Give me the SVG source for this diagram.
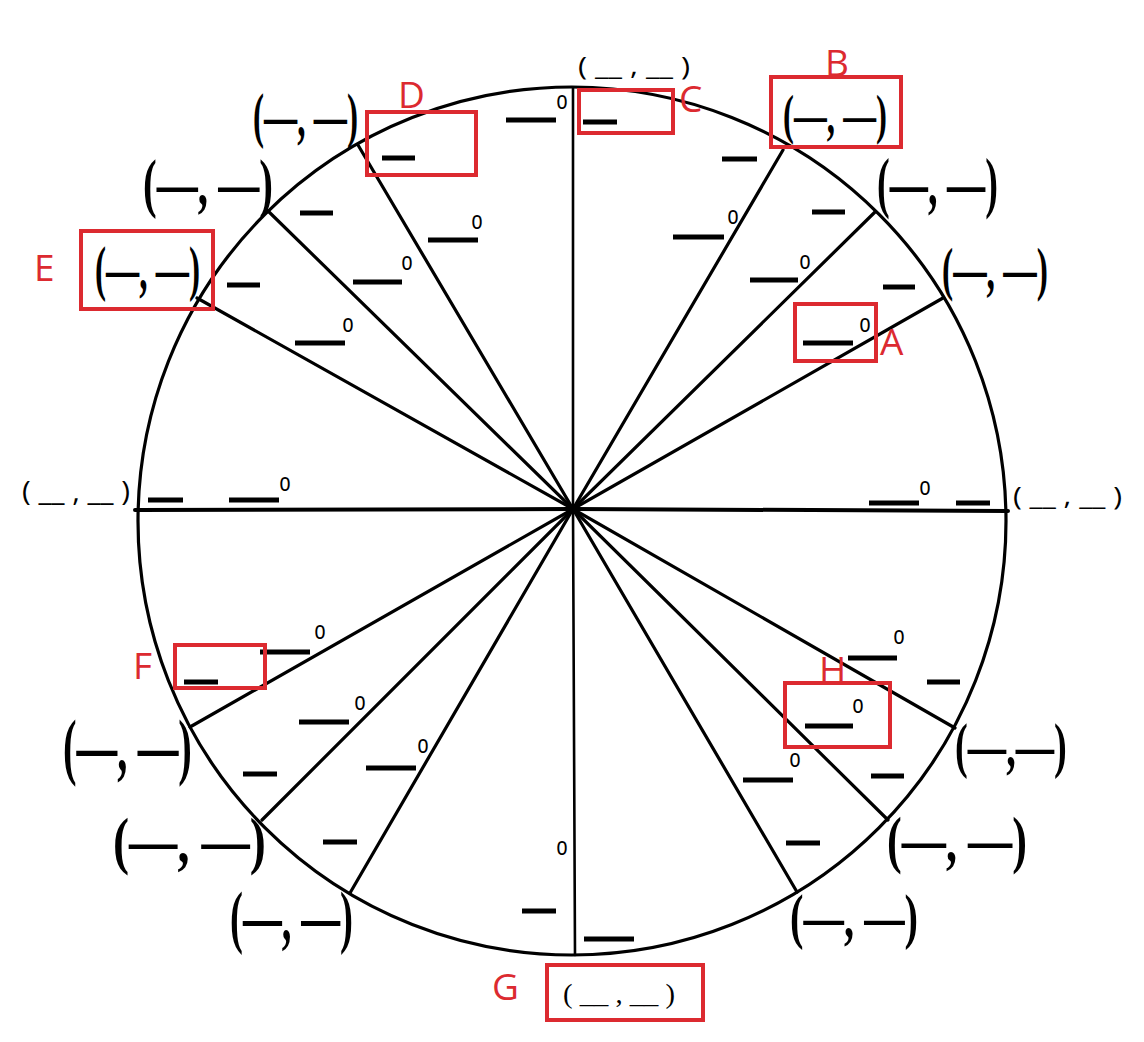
<svg xmlns="http://www.w3.org/2000/svg" width="1144" height="1042" viewBox="0 0 1144 1042">
<style>
.circ{fill:none;stroke:#000;stroke-width:3.2}
.rad{stroke:#000;stroke-width:3.2;stroke-linecap:round}
.bar{stroke:#000;stroke-width:5}
.deg{font-family:"Liberation Sans",Arial,sans-serif;font-size:25px;fill:#000;text-anchor:middle}
.pt{font-family:"Liberation Serif","Times New Roman",serif;font-weight:bold;fill:#000}
.ax{font-family:"Open Sans","Liberation Sans",sans-serif;fill:#000}
.axs{font-family:"Liberation Serif","Times New Roman",serif;fill:#000}
.box{fill:none;stroke:#dc2a30;stroke-width:4}
.lt{font-family:"Open Sans","Noto Sans",sans-serif;font-size:37px;fill:#dc2a30}
</style>
<rect width="1144" height="1042" fill="#fff"/>
<g id="unit-circle"><circle class="circ" cx="572" cy="521" r="434"/></g>
<g id="connectors">
<line class="rad" x1="573" y1="509" x2="1008" y2="511" style="stroke-width:4"/>
<line class="rad" x1="573" y1="509" x2="943" y2="298"/>
<line class="rad" x1="573" y1="509" x2="875" y2="212"/>
<line class="rad" x1="573" y1="509" x2="783" y2="150"/>
<line class="rad" x1="573" y1="509" x2="573" y2="88" style="stroke-width:2.6"/>
<line class="rad" x1="573" y1="509" x2="358" y2="145"/>
<line class="rad" x1="573" y1="509" x2="267" y2="210"/>
<line class="rad" x1="573" y1="509" x2="197" y2="298"/>
<line class="rad" x1="573" y1="509" x2="135" y2="510" style="stroke-width:4"/>
<line class="rad" x1="573" y1="509" x2="190" y2="727"/>
<line class="rad" x1="573" y1="509" x2="262" y2="820"/>
<line class="rad" x1="573" y1="509" x2="350" y2="893"/>
<line class="rad" x1="573" y1="509" x2="575" y2="955" style="stroke-width:2.6"/>
<line class="rad" x1="573" y1="509" x2="797" y2="892"/>
<line class="rad" x1="573" y1="509" x2="888" y2="820"/>
<line class="rad" x1="573" y1="509" x2="955" y2="728"/>
</g>
<g id="blanks">
<line class="bar" x1="869" y1="503" x2="919" y2="503"/><text class="deg" x="925" y="495" textLength="11" lengthAdjust="spacingAndGlyphs">o</text>
<line class="bar" x1="956" y1="503" x2="990" y2="503"/>
<line class="bar" x1="803" y1="343" x2="853" y2="343"/><text class="deg" x="865" y="332" textLength="11" lengthAdjust="spacingAndGlyphs">o</text>
<line class="bar" x1="883" y1="287" x2="915" y2="287"/>
<line class="bar" x1="750" y1="280" x2="798" y2="280"/><text class="deg" x="805" y="269" textLength="11" lengthAdjust="spacingAndGlyphs">o</text>
<line class="bar" x1="812" y1="212" x2="845" y2="212"/>
<line class="bar" x1="673" y1="237" x2="724" y2="237"/><text class="deg" x="733" y="224" textLength="11" lengthAdjust="spacingAndGlyphs">o</text>
<line class="bar" x1="722" y1="159" x2="757" y2="159"/>
<line class="bar" x1="583" y1="122" x2="617" y2="122"/>
<line class="bar" x1="506" y1="120" x2="556" y2="120"/><text class="deg" x="562" y="109" textLength="11" lengthAdjust="spacingAndGlyphs">o</text>
<line class="bar" x1="382" y1="158" x2="415" y2="158"/>
<line class="bar" x1="428" y1="240" x2="478" y2="240"/><text class="deg" x="477" y="229" textLength="11" lengthAdjust="spacingAndGlyphs">o</text>
<line class="bar" x1="300" y1="213" x2="333" y2="213"/>
<line class="bar" x1="353" y1="282" x2="402" y2="282"/><text class="deg" x="407" y="270" textLength="11" lengthAdjust="spacingAndGlyphs">o</text>
<line class="bar" x1="227" y1="285" x2="260" y2="285"/>
<line class="bar" x1="295" y1="343" x2="345" y2="343"/><text class="deg" x="348" y="332" textLength="11" lengthAdjust="spacingAndGlyphs">o</text>
<line class="bar" x1="148" y1="500" x2="183" y2="500"/>
<line class="bar" x1="229" y1="500" x2="279" y2="500"/><text class="deg" x="285" y="491" textLength="11" lengthAdjust="spacingAndGlyphs">o</text>
<line class="bar" x1="260" y1="652" x2="310" y2="652"/><text class="deg" x="320" y="639" textLength="11" lengthAdjust="spacingAndGlyphs">o</text>
<line class="bar" x1="184" y1="682" x2="218" y2="682"/>
<line class="bar" x1="299" y1="722" x2="349" y2="722"/><text class="deg" x="360" y="710" textLength="11" lengthAdjust="spacingAndGlyphs">o</text>
<line class="bar" x1="243" y1="774" x2="277" y2="774"/>
<line class="bar" x1="366" y1="768" x2="416" y2="768"/><text class="deg" x="423" y="753" textLength="11" lengthAdjust="spacingAndGlyphs">o</text>
<line class="bar" x1="323" y1="842" x2="357" y2="842"/>
<text class="deg" x="562" y="855" textLength="11" lengthAdjust="spacingAndGlyphs">o</text>
<line class="bar" x1="522" y1="911" x2="556" y2="911"/>
<line class="bar" x1="584" y1="939" x2="634" y2="939"/>
<line class="bar" x1="743" y1="780" x2="793" y2="780"/><text class="deg" x="795" y="767" textLength="11" lengthAdjust="spacingAndGlyphs">o</text>
<line class="bar" x1="786" y1="843" x2="820" y2="843"/>
<line class="bar" x1="805" y1="726" x2="853" y2="726"/><text class="deg" x="858" y="713" textLength="11" lengthAdjust="spacingAndGlyphs">o</text>
<line class="bar" x1="871" y1="776" x2="904" y2="776"/>
<line class="bar" x1="848" y1="658" x2="897" y2="658"/><text class="deg" x="899" y="644" textLength="11" lengthAdjust="spacingAndGlyphs">o</text>
<line class="bar" x1="927" y1="682" x2="960" y2="682"/>
</g>
<g id="point-0"><text class="ax" x="1013" y="505" font-size="26" textLength="109" lengthAdjust="spacingAndGlyphs">( __ , __ )</text></g>
<g id="point-30"><text class="pt" transform="translate(942 289) scale(0.558 1)" font-size="60">(—, —)</text></g>
<g id="point-45"><text class="pt" transform="translate(877 205) scale(0.562 1)" font-size="68">(—, —)</text></g>
<g id="point-60"><text class="pt" transform="translate(783 133) scale(0.608 1)" font-size="54">(—, —)</text></g>
<g id="point-90"><text class="ax" x="578" y="75" font-size="26" textLength="112" lengthAdjust="spacingAndGlyphs">( __ , __ )</text></g>
<g id="point-120"><text class="pt" transform="translate(253 136) scale(0.535 1)" font-size="62">(—, —)</text></g>
<g id="point-135"><text class="pt" transform="translate(143 205) scale(0.632 1)" font-size="65">(—, —)</text></g>
<g id="point-150"><text class="pt" transform="translate(95 289) scale(0.544 1)" font-size="61">(—, —)</text></g>
<g id="point-180"><text class="ax" x="22" y="501" font-size="28" textLength="108" lengthAdjust="spacingAndGlyphs">( __ , __ )</text></g>
<g id="point-210"><text class="pt" transform="translate(63 771) scale(0.543 1)" font-size="75">(—, —)</text></g>
<g id="point-225"><text class="pt" transform="translate(113 862) scale(0.767 1)" font-size="63">(—, —)</text></g>
<g id="point-240"><text class="pt" transform="translate(230 940) scale(0.555 1)" font-size="70">(—, —)</text></g>
<g id="point-270"><text class="axs" x="563" y="1003" font-size="28" textLength="112" lengthAdjust="spacingAndGlyphs">( __ , __ )</text></g>
<g id="point-300"><text class="pt" transform="translate(790 937) scale(0.663 1)" font-size="61">(—, —)</text></g>
<g id="point-315"><text class="pt" transform="translate(887 861) scale(0.702 1)" font-size="63">(—, —)</text></g>
<g id="point-330"><text class="pt" transform="translate(955 766) scale(0.619 1)" font-size="62">(—,—)</text></g>
<g id="mark-A"><rect class="box" x="795" y="304" width="81" height="57"/><text class="lt" x="880" y="355">A</text></g>
<g id="mark-B"><rect class="box" x="771" y="77" width="130" height="70"/><text class="lt" x="825" y="76">B</text></g>
<g id="mark-C"><rect class="box" x="579" y="90" width="94" height="43"/><text class="lt" x="679" y="112">C</text></g>
<g id="mark-D"><rect class="box" x="367" y="112" width="109" height="63"/><text class="lt" x="398" y="108">D</text></g>
<g id="mark-E"><rect class="box" x="81" y="231" width="132" height="78"/><text class="lt" x="34" y="281">E</text></g>
<g id="mark-F"><rect class="box" x="175" y="645" width="90" height="43"/><text class="lt" x="133" y="679">F</text></g>
<g id="mark-G"><rect class="box" x="547" y="965" width="156" height="55"/><text class="lt" x="492" y="1000">G</text></g>
<g id="mark-H"><rect class="box" x="785" y="683" width="105" height="64"/><text class="lt" x="819" y="683">H</text></g>
</svg>
